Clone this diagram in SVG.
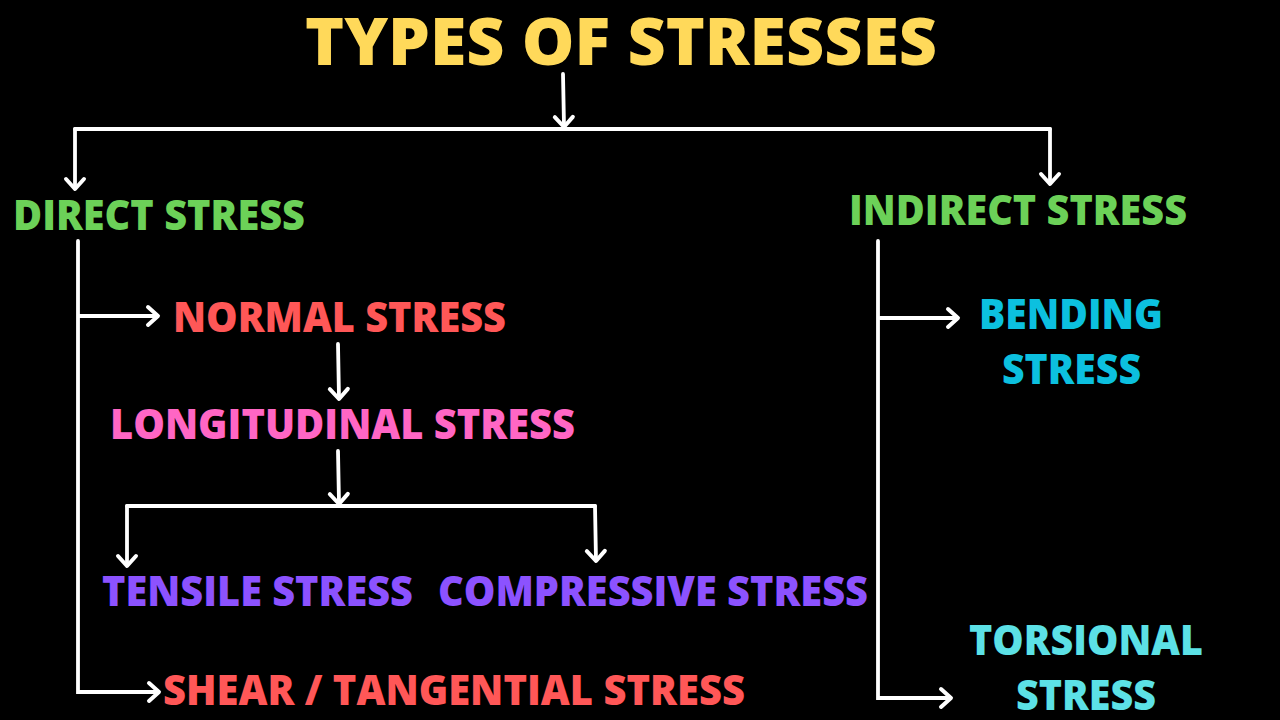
<svg xmlns="http://www.w3.org/2000/svg" width="1280" height="720" viewBox="0 0 1280 720">
<defs>
<marker id="arr" viewBox="-14 -14 28 28" refX="-1" refY="0" markerWidth="28" markerHeight="28" markerUnits="userSpaceOnUse" orient="auto">
<path d="M-10,-9 L0,0 L-10,9" fill="none" stroke="#fff" stroke-width="4" stroke-linecap="round" stroke-linejoin="round"/>
</marker>
<style>
.t{font-family:"Open Sans","Liberation Sans",sans-serif;font-weight:800;}
.c{stroke:#fff;stroke-width:3.8;fill:none;stroke-linecap:round;stroke-linejoin:miter;}
</style>
</defs>
<rect width="1280" height="720" fill="#000"/>
<g id="connectors" class="c">
<path d="M563,74 L564,126" marker-end="url(#arr)"/>
<path d="M75,129 L1050,129"/>
<path d="M75,129 L75,188" marker-end="url(#arr)"/>
<path d="M1050,129 L1050,183" marker-end="url(#arr)"/>
<path d="M78,241 L78,692 L158,692" marker-end="url(#arr)"/>
<path d="M79,316 L157,316" marker-end="url(#arr)"/>
<path d="M338,344 L339,398" marker-end="url(#arr)"/>
<path d="M338,451 L339,503" marker-end="url(#arr)"/>
<path d="M127,506 L595,506"/>
<path d="M127,506 L127,565" marker-end="url(#arr)"/>
<path d="M595,506 L596,560" marker-end="url(#arr)"/>
<path d="M878,241 L878,698 L950,698" marker-end="url(#arr)"/>
<path d="M880,318 L957,318" marker-end="url(#arr)"/>
</g>
<g id="title"><text class="t" x="305" y="65" font-size="66" fill="#FFD95A" textLength="632" lengthAdjust="spacingAndGlyphs">TYPES OF STRESSES</text></g>
<g id="direct"><text class="t" x="13" y="230" font-size="42" fill="#6CD158" textLength="292" lengthAdjust="spacingAndGlyphs">DIRECT STRESS</text></g>
<g id="indirect"><text class="t" x="849" y="225" font-size="42" fill="#6CD158" textLength="338" lengthAdjust="spacingAndGlyphs">INDIRECT STRESS</text></g>
<g id="normal"><text class="t" x="173" y="332" font-size="42" fill="#FF5757" textLength="333" lengthAdjust="spacingAndGlyphs">NORMAL STRESS</text></g>
<g id="longitudinal"><text class="t" x="110" y="439" font-size="42" fill="#FF66C4" textLength="465" lengthAdjust="spacingAndGlyphs">LONGITUDINAL STRESS</text></g>
<g id="tensile"><text class="t" x="102" y="606" font-size="42" fill="#8C52FF" textLength="311" lengthAdjust="spacingAndGlyphs">TENSILE STRESS</text></g>
<g id="compressive"><text class="t" x="438" y="606" font-size="42" fill="#8C52FF" textLength="430" lengthAdjust="spacingAndGlyphs">COMPRESSIVE STRESS</text></g>
<g id="shear"><text class="t" x="163" y="705" font-size="42" fill="#FF5757" textLength="582" lengthAdjust="spacingAndGlyphs">SHEAR / TANGENTIAL STRESS</text></g>
<g id="bending"><text class="t" font-size="42" fill="#0CC0DF"><tspan x="979" y="329" textLength="184" lengthAdjust="spacingAndGlyphs">BENDING</tspan><tspan x="1002" y="384" textLength="139" lengthAdjust="spacingAndGlyphs">STRESS</tspan></text></g>
<g id="torsional"><text class="t" font-size="42" fill="#5CE1E6"><tspan x="969" y="655" textLength="234" lengthAdjust="spacingAndGlyphs">TORSIONAL</tspan><tspan x="1016" y="710" textLength="140" lengthAdjust="spacingAndGlyphs">STRESS</tspan></text></g>
</svg>
